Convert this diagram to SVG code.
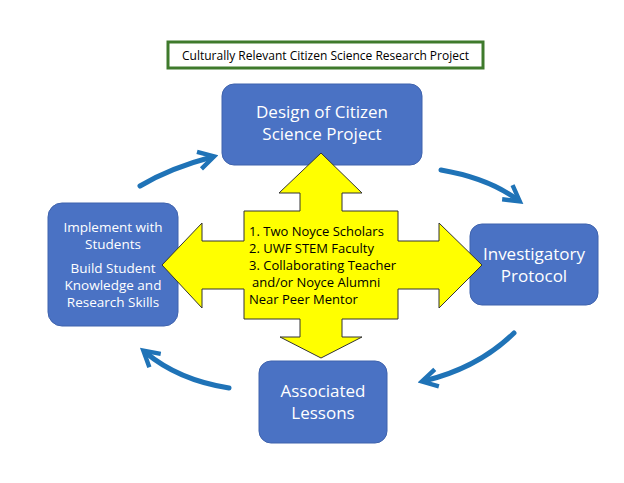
<svg xmlns="http://www.w3.org/2000/svg" width="624" height="483" viewBox="0 0 624 483">
<style>
.box{fill:#4a72c4;stroke:#3f63ad;stroke-width:1}
.bt{font-family:"Open Sans","Liberation Sans",sans-serif;fill:#fff;text-anchor:middle}
.cur{fill:none;stroke:#1f73b7;stroke-width:5;stroke-linecap:round}
.ct{font-family:"Open Sans","Liberation Sans",sans-serif;font-size:13px;fill:#000}
.tt{font-family:"Open Sans","Liberation Sans",sans-serif;font-size:12px;fill:#000;text-anchor:middle}
</style>
<defs>
<marker id="ah" viewBox="0 0 10 10" refX="7" refY="5" markerWidth="4.4" markerHeight="4.4" orient="auto">
<path d="M1,1 L8,5 L1,9" fill="none" stroke="#1f73b7" stroke-width="2"/>
</marker>
</defs>
<rect width="624" height="483" fill="#fff"/>
<g id="title">
<rect x="168" y="42" width="315" height="26" fill="#fff" stroke="#3f7a2c" stroke-width="3"/>
<text x="325.5" y="60" class="tt">Culturally Relevant Citizen Science Research Project</text>
</g>
<g id="connectors">
<path class="cur" d="M140,186 Q170,168 212,157" marker-end="url(#ah)"/>
<path class="cur" d="M441,170 Q488,178 518,200" marker-end="url(#ah)"/>
<path class="cur" d="M514,333 Q478,368 424,381" marker-end="url(#ah)"/>
<path class="cur" d="M229,388 Q178,380 145,352" marker-end="url(#ah)"/>
</g>
<g id="design">
<rect class="box" x="222" y="84" width="200" height="81" rx="12"/>
<text class="bt" font-size="17" x="322" y="118">Design of Citizen</text>
<text class="bt" font-size="17" x="322" y="140">Science Project</text>
</g>
<g id="protocol">
<rect class="box" x="470" y="224" width="128" height="81" rx="12"/>
<text class="bt" font-size="17" x="534" y="260">Investigatory</text>
<text class="bt" font-size="17" x="534" y="282">Protocol</text>
</g>
<g id="lessons">
<rect class="box" x="259" y="361" width="128" height="82" rx="12"/>
<text class="bt" font-size="17" x="323" y="397">Associated</text>
<text class="bt" font-size="17" x="323" y="419">Lessons</text>
</g>
<g id="implement">
<rect class="box" x="48" y="203" width="130" height="123" rx="14"/>
<text class="bt" font-size="13.5" x="113" y="232">Implement with</text>
<text class="bt" font-size="13.5" x="113" y="249">Students</text>
<text class="bt" font-size="13.5" x="113" y="273">Build Student</text>
<text class="bt" font-size="13.5" x="113" y="290">Knowledge and</text>
<text class="bt" font-size="13.5" x="113" y="307">Research Skills</text>
</g>
<g id="center">
<path d="M321,153 L362,193 L342,193 L342,211 L398,211 L398,241 L439,241 L439,223 L482,265 L439,308 L439,289 L398,289 L398,319 L342,319 L342,337 L362,337 L321,358 L280,337 L300,337 L300,319 L244,319 L244,289 L202,289 L202,308 L162,265 L202,223 L202,241 L244,241 L244,211 L300,211 L300,193 L279,193 Z" fill="#ffff00" stroke="#333" stroke-width="1"/>
<text class="ct" x="249" y="236">1. Two Noyce Scholars</text>
<text class="ct" x="249" y="253">2. UWF STEM Faculty</text>
<text class="ct" x="249" y="270">3. Collaborating Teacher</text>
<text class="ct" x="252" y="287">and/or Noyce Alumni</text>
<text class="ct" x="249" y="304">Near Peer Mentor</text>
</g>
</svg>
